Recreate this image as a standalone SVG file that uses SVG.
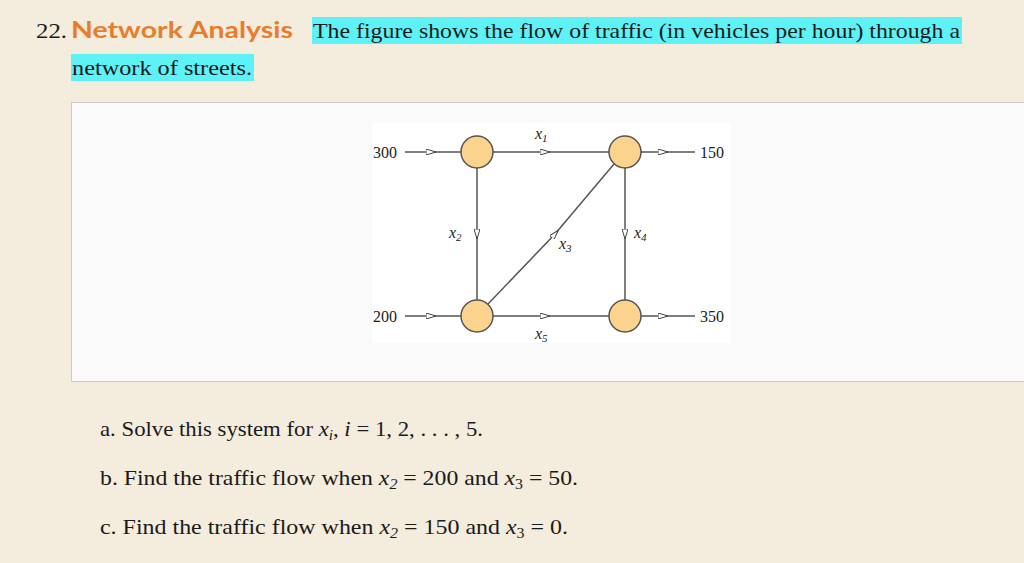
<svg xmlns="http://www.w3.org/2000/svg" width="1024" height="563" viewBox="0 0 1024 563">
<defs>
<marker id="a" viewBox="0 0 10 6" refX="5" refY="3" markerWidth="10" markerHeight="6" markerUnits="userSpaceOnUse" orient="auto"><path d="M0,0 L10,3 L0,6 Z" fill="#fff" stroke="#444" stroke-width="1"/></marker>
<style>
.t{font-family:"Liberation Serif",serif;font-size:21px;fill:#1a1a1a}
.n{font-family:"Liberation Serif",serif;font-size:16px;fill:#222}
.v{font-family:"Liberation Serif",serif;font-size:16px;font-style:italic;fill:#222}
.e{stroke:#555;stroke-width:1.5;fill:none}
.nd{fill:#fbd38d;stroke:#555;stroke-width:1.5}
</style>
</defs>
<rect width="1024" height="563" fill="#f4ecdd"/>
<rect x="312" y="17" width="650" height="27" fill="#5ef2f7"/>
<rect x="71" y="54" width="183" height="27" fill="#5ef2f7"/>
<text x="36" y="38" class="t" textLength="31" lengthAdjust="spacingAndGlyphs">22.</text>
<text x="71" y="38" font-family="Lato,'Open Sans',sans-serif" font-weight="bold" font-size="23" fill="#e87d2c" textLength="222" lengthAdjust="spacingAndGlyphs">Network Analysis</text>
<text x="313" y="38" class="t" textLength="647" lengthAdjust="spacingAndGlyphs">The figure shows the flow of traffic (in vehicles per hour) through a</text>
<text x="72" y="75" class="t" textLength="180" lengthAdjust="spacingAndGlyphs">network of streets.</text>
<rect x="71.5" y="102.5" width="960" height="279" fill="#fafafa" stroke="#ccc"/>
<rect x="372" y="123" width="359" height="220" fill="#fff"/>
<g id="connectors">
<path class="e" d="M405,152 L431,152 L461,152" marker-mid="url(#a)"/>
<path class="e" d="M493,152 L545,152 L609,152" marker-mid="url(#a)"/>
<path class="e" d="M641,152 L663,152 L695,152" marker-mid="url(#a)"/>
<path class="e" d="M405,316 L431,316 L461,316" marker-mid="url(#a)"/>
<path class="e" d="M493,316 L545,316 L609,316" marker-mid="url(#a)"/>
<path class="e" d="M641,316 L663,316 L695,316" marker-mid="url(#a)"/>
<path class="e" d="M477,168 L477,234 L477,300" marker-mid="url(#a)"/>
<path class="e" d="M625,168 L625,234 L625,300" marker-mid="url(#a)"/>
<path class="e" d="M488,304 L555,234 L614,164" marker-mid="url(#a)"/>
</g>
<g id="n1"><circle class="nd" cx="477" cy="152" r="16"/></g>
<g id="n2"><circle class="nd" cx="625" cy="152" r="16"/></g>
<g id="n3"><circle class="nd" cx="477" cy="316" r="16"/></g>
<g id="n4"><circle class="nd" cx="625" cy="316" r="16"/></g>
<g id="labels">
<text x="373" y="158" class="n">300</text>
<text x="373" y="322" class="n">200</text>
<text x="700" y="158" class="n">150</text>
<text x="700" y="322" class="n">350</text>
<text x="535" y="139" class="v">x<tspan font-size="11" dy="3">1</tspan></text>
<text x="449" y="238" class="v">x<tspan font-size="11" dy="3">2</tspan></text>
<text x="559" y="249" class="v">x<tspan font-size="11" dy="3">3</tspan></text>
<text x="634" y="238" class="v">x<tspan font-size="11" dy="3">4</tspan></text>
<text x="535" y="339" class="v">x<tspan font-size="11" dy="3">5</tspan></text>
</g>
<text x="100" y="436" class="t" textLength="383" lengthAdjust="spacingAndGlyphs">a. Solve this system for <tspan font-style="italic">x<tspan font-size="14" dy="4">i</tspan></tspan><tspan dy="-4">, <tspan font-style="italic">i</tspan> = 1, 2, . . . , 5.</tspan></text>
<text x="100" y="485" class="t" textLength="478" lengthAdjust="spacingAndGlyphs">b. Find the traffic flow when <tspan font-style="italic">x<tspan font-size="14" dy="4">2</tspan></tspan><tspan dy="-4"> = 200 and <tspan font-style="italic">x</tspan><tspan font-size="14" dy="4">3</tspan><tspan dy="-4"> = 50.</tspan></tspan></text>
<text x="100" y="534" class="t" textLength="468" lengthAdjust="spacingAndGlyphs">c. Find the traffic flow when <tspan font-style="italic">x<tspan font-size="14" dy="4">2</tspan></tspan><tspan dy="-4"> = 150 and <tspan font-style="italic">x</tspan><tspan font-size="14" dy="4">3</tspan><tspan dy="-4"> = 0.</tspan></tspan></text>
</svg>
